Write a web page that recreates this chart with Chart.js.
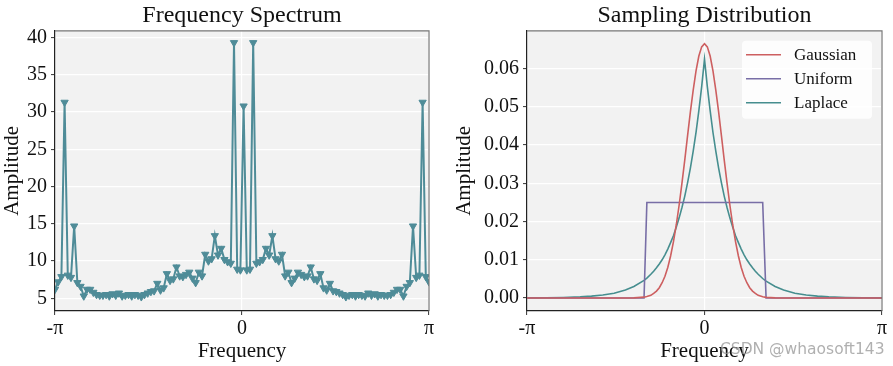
<!DOCTYPE html>
<html>
<head>
<meta charset="utf-8">
<script src="https://cdn.jsdelivr.net/npm/chart.js@4.4.1/dist/chart.umd.min.js"></script>
<style>
  html, body { margin: 0; padding: 0; background: #fff; }
  #wrap { position: relative; width: 893px; height: 366px; overflow: hidden; }
  canvas { position: absolute; top: 0; }
  #spectrumChart { left: 0; }
  #samplingChart { left: 446px; }
  #mark {
    position: absolute; left: 720px; top: 340px;
    font: 15.5px "DejaVu Sans", sans-serif; color: rgba(150, 150, 150, 0.75);
    white-space: nowrap;
  }
</style>
</head>
<body>
<div id="wrap">
  <canvas id="spectrumChart" width="446" height="366"></canvas>
  <canvas id="samplingChart" width="447" height="366"></canvas>
  <div id="mark">CSDN @whaosoft143</div>
</div>
<script>
// left panel: FFT magnitude, 118 bins from -pi to pi
const spectrumAmp = [
  6.2, 7.2, 7.9, 31.3, 8.1, 7.8, 14.7, 7.1, 6.6, 5.3,
  6.2, 6.2, 5.8, 5.5, 5.4, 5.4, 5.5, 5.3, 5.6, 5.4,
  5.7, 5.3, 5.4, 5.5, 5.3, 5.5, 5.4, 5.2, 5.5, 5.7,
  5.9, 6.0, 7.0, 6.1, 6.4, 8.3, 7.4, 7.6, 9.2, 8.0,
  7.9, 8.2, 8.5, 7.7, 7.1, 8.5, 8.0, 10.9, 10.0, 10.3,
  13.4, 10.8, 11.7, 10.2, 9.9, 9.7, 39.3, 8.9, 8.8, 30.8,
  8.8, 8.9, 39.3, 9.7, 9.9, 10.2, 11.7, 10.8, 13.4, 10.3,
  10.0, 10.9, 8.0, 8.5, 7.1, 7.7, 8.5, 8.2, 7.9, 8.0,
  9.2, 7.6, 7.4, 8.3, 6.4, 6.1, 7.0, 6.0, 5.9, 5.7,
  5.5, 5.2, 5.4, 5.5, 5.3, 5.5, 5.4, 5.3, 5.7, 5.4,
  5.6, 5.3, 5.5, 5.4, 5.4, 5.5, 5.8, 6.2, 6.2, 5.3,
  6.6, 7.1, 14.7, 7.8, 8.1, 31.3, 7.9, 7.2
];
const spectrumTicks = [5, 10, 15, 20, 25, 30, 35, 40];

// right panel: sampling weights
const distX = [
  -3.1416, -2.8, -2.5, -2.2, -2.0, -1.8, -1.6, -1.4, -1.25, -1.07, -1.02,
  -0.95, -0.9, -0.85, -0.8, -0.75, -0.7, -0.65, -0.6, -0.55, -0.5,
  -0.45, -0.4, -0.35, -0.3, -0.25, -0.2, -0.15, -0.1, -0.05, 0,
  0.05, 0.1, 0.15, 0.2, 0.25, 0.3, 0.35, 0.4, 0.45, 0.5,
  0.55, 0.6, 0.65, 0.7, 0.75, 0.8, 0.85, 0.9, 0.95, 1.03, 1.09,
  1.25, 1.4, 1.6, 1.8, 2.0, 2.2, 2.5, 2.8, 3.1416
];
const gaussian = [
  0, 0, 0, 0, 0, 0, 0, 0, 0.00003, 0.00022, 0.00037,
  0.0007, 0.0012, 0.0018, 0.0027, 0.0040, 0.0057, 0.0080, 0.0110, 0.0147, 0.0191,
  0.0242, 0.0299, 0.0360, 0.0424, 0.0487, 0.0544, 0.0594, 0.0633, 0.0657, 0.0665,
  0.0657, 0.0633, 0.0594, 0.0544, 0.0487, 0.0424, 0.0360, 0.0299, 0.0242, 0.0191,
  0.0147, 0.0110, 0.0080, 0.0057, 0.0040, 0.0027, 0.0018, 0.0012, 0.0007, 0.00033, 0.00017,
  0.00003, 0, 0, 0, 0, 0, 0, 0, 0
];
const uniform = [
  0, 0, 0, 0, 0, 0, 0, 0, 0, 0, 0.025,
  0.025, 0.025, 0.025, 0.025, 0.025, 0.025, 0.025, 0.025, 0.025, 0.025,
  0.025, 0.025, 0.025, 0.025, 0.025, 0.025, 0.025, 0.025, 0.025, 0.025,
  0.025, 0.025, 0.025, 0.025, 0.025, 0.025, 0.025, 0.025, 0.025, 0.025,
  0.025, 0.025, 0.025, 0.025, 0.025, 0.025, 0.025, 0.025, 0.025, 0.025, 0,
  0, 0, 0, 0, 0, 0, 0, 0, 0
];
const laplace = [
  0.00003, 0.00007, 0.00014, 0.00029, 0.00048, 0.00078, 0.00126, 0.0021, 0.0030, 0.0046, 0.0052,
  0.0062, 0.0070, 0.0079, 0.0089, 0.0100, 0.0113, 0.0128, 0.0145, 0.0163, 0.0185,
  0.0209, 0.0236, 0.0266, 0.0301, 0.0340, 0.0384, 0.0433, 0.0490, 0.0553, 0.0625,
  0.0553, 0.0490, 0.0433, 0.0384, 0.0340, 0.0301, 0.0266, 0.0236, 0.0209, 0.0185,
  0.0163, 0.0145, 0.0128, 0.0113, 0.0100, 0.0089, 0.0079, 0.0070, 0.0062, 0.0051, 0.0044,
  0.0030, 0.0021, 0.00126, 0.00078, 0.00048, 0.00029, 0.00014, 0.00007, 0.00003
];
const distTicks = [0, 0.01, 0.02, 0.03, 0.04, 0.05, 0.06];
const distNames = ['Gaussian', 'Uniform', 'Laplace'];
const distColors = ['#cd5f60', '#786ea6', '#468e8f'];

const xTickValues = [-Math.PI, 0, Math.PI];
const xTickLabels = ['-π', '0', 'π'];

const SERIF = "'Liberation Serif', 'Times New Roman', serif";
const spectrumFreq = spectrumAmp.map((_, i) => -Math.PI + (2 * Math.PI * i) / (spectrumAmp.length - 1));

// gray plot background + thin top/right spines
const plotFrame = {
  id: 'plotFrame',
  beforeDraw(chart) {
    const { ctx, chartArea: a } = chart;
    ctx.save();
    ctx.fillStyle = '#f2f2f2';
    ctx.fillRect(a.left, a.top, a.width, a.height);
    ctx.restore();
  },
  afterDraw(chart) {
    const { ctx, chartArea: a } = chart;
    ctx.save();
    ctx.strokeStyle = '#777';
    ctx.lineWidth = 1.2;
    ctx.beginPath();
    ctx.moveTo(a.left, a.top);
    ctx.lineTo(a.right, a.top);
    ctx.lineTo(a.right, a.bottom);
    ctx.stroke();
    ctx.restore();
  }
};

// legend box inside the upper right corner
const insideLegend = {
  id: 'insideLegend',
  afterDraw(chart) {
    const { ctx, chartArea: a } = chart;
    const w = 130, h = 78;
    const x0 = a.right - 10 - w, y0 = a.top + 10;
    ctx.save();
    ctx.fillStyle = 'rgba(255,255,255,0.85)';
    ctx.beginPath();
    ctx.roundRect(x0, y0, w, h, 4);
    ctx.fill();
    ctx.font = '17px ' + SERIF;
    ctx.textBaseline = 'middle';
    chart.data.datasets.forEach((ds, i) => {
      const y = y0 + 14 + i * 24;
      ctx.strokeStyle = ds.borderColor;
      ctx.lineWidth = 1.6;
      ctx.beginPath();
      ctx.moveTo(x0 + 4, y);
      ctx.lineTo(x0 + 39, y);
      ctx.stroke();
      ctx.fillStyle = '#111';
      ctx.fillText(ds.label, x0 + 52, y + 1);
    });
    ctx.restore();
  }
};

function xAxis(extra) {
  return Object.assign({
    type: 'linear',
    min: -Math.PI,
    max: Math.PI,
    afterBuildTicks: (s) => { s.ticks = xTickValues.map(v => ({ value: v })); },
    afterFit: (s) => { s.height = 55; },
    ticks: {
      autoSkip: false, maxRotation: 0, padding: 2, color: '#111',
      font: { family: SERIF, size: 20 },
      callback: (v, i) => xTickLabels[i]
    },
    grid: { color: '#ffffff', lineWidth: 1.2, tickLength: 4, tickColor: '#333', tickWidth: 1 },
    border: { display: true, color: '#222', width: 1.2 },
    title: { display: true, text: 'Frequency', color: '#111', font: { family: SERIF, size: 21 }, padding: { top: 0, bottom: 2 } }
  }, extra || {});
}

function yAxis(min, max, ticks, width, fmt) {
  return {
    min: min,
    max: max,
    afterBuildTicks: (s) => { s.ticks = ticks.map(v => ({ value: v })); },
    afterFit: (s) => { s.width = width; },
    ticks: {
      autoSkip: false, padding: 4, color: '#111',
      font: { family: SERIF, size: 20 },
      callback: fmt
    },
    grid: { color: '#ffffff', lineWidth: 1.2, tickLength: 4, tickColor: '#333', tickWidth: 1 },
    border: { display: true, color: '#222', width: 1.2 },
    title: { display: true, text: 'Amplitude', color: '#111', font: { family: SERIF, size: 21 }, padding: 0 }
  };
}

function titleOpts(text) {
  return {
    display: true, text: text, fullSize: false, color: '#111',
    font: { family: SERIF, size: 24, weight: 'normal' },
    padding: { top: 0, bottom: 1 }
  };
}

new Chart(document.getElementById('spectrumChart'), {
  type: 'line',
  data: {
    datasets: [{
      data: spectrumAmp.map((v, i) => ({ x: spectrumFreq[i], y: v })),
      borderColor: '#4f8c98',
      backgroundColor: '#4f8c98',
      borderWidth: 2,
      pointStyle: 'triangle',
      rotation: 180,
      pointRadius: 4.2,
      pointBorderWidth: 1,
      pointBackgroundColor: '#4f8c98',
      pointBorderColor: '#4f8c98'
    }]
  },
  options: {
    responsive: false,
    animation: false,
    devicePixelRatio: 1,
    layout: { padding: { top: 1, right: 17, bottom: 0, left: 0 } },
    plugins: { legend: { display: false }, tooltip: { enabled: false }, title: titleOpts('Frequency Spectrum') },
    scales: {
      x: xAxis(),
      y: yAxis(3.3, 40.9, spectrumTicks, 55, (v) => String(v))
    }
  },
  plugins: [plotFrame]
});

new Chart(document.getElementById('samplingChart'), {
  type: 'line',
  data: {
    datasets: [gaussian, uniform, laplace].map((arr, k) => ({
      label: distNames[k],
      data: arr.map((v, i) => ({ x: distX[i], y: v })),
      borderColor: distColors[k],
      backgroundColor: distColors[k],
      borderWidth: 1.6,
      pointRadius: 0
    }))
  },
  options: {
    responsive: false,
    animation: false,
    devicePixelRatio: 1,
    layout: { padding: { top: 1, right: 11, bottom: 0, left: 6 } },
    plugins: { legend: { display: false }, tooltip: { enabled: false }, title: titleOpts('Sampling Distribution') },
    scales: {
      x: xAxis(),
      y: yAxis(-0.0034, 0.0699, distTicks, 75, (v) => v.toFixed(2))
    }
  },
  plugins: [plotFrame, insideLegend]
});
</script>
</body>
</html>
